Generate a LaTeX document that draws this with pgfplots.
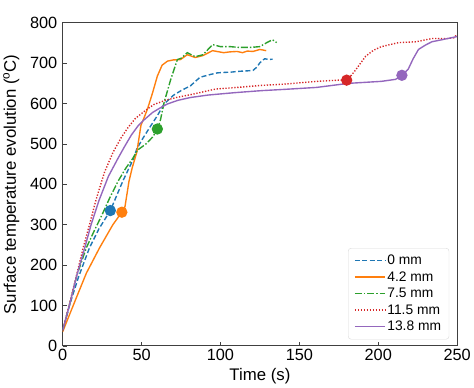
\documentclass[border=0pt]{standalone}
\usepackage{pgfplots}
\pgfplotsset{compat=1.18}
\usepackage{fontspec}
\setmainfont{Liberation Sans}
\definecolor{mblue}{HTML}{1F77B4}
\definecolor{morange}{HTML}{FF7F0E}
\definecolor{mgreen}{HTML}{2CA02C}
\definecolor{mred}{HTML}{D62728}
\definecolor{mpurple}{HTML}{9467BD}
\begin{document}
\begin{tikzpicture}
\begin{axis}[
  width=398bp, height=326bp, scale only axis,
  xmin=0, xmax=250, ymin=0, ymax=800,
  xtick={0,50,100,150,200,250},
  ytick={0,100,200,300,400,500,600,700,800},
  tick pos=left, tick align=inside,
  major tick length=4bp,
  axis line style={black!75, line width=0.8pt},
  tick style={black!75, line width=0.6pt},
  /pgf/number format/assume math mode=true,
  ticklabel style={font=\fontsize{16.5}{18}\selectfont},
  yticklabel style={xshift=-2bp},
  label style={font=\fontsize{17}{19}\selectfont},
  xlabel={Time (s)},
  ylabel={Surface temperature evolution (\textsuperscript{o}C)},
  xlabel style={yshift=-1bp},
  ylabel style={yshift=4bp},
  legend cell align=left,
  legend style={at={(rel axis cs:0.98,0.02)}, anchor=south east,
    font=\fontsize{14}{16}\selectfont, draw=black!15, rounded corners=3pt,
    row sep=1.5bp, inner xsep=6bp, inner ysep=5bp},
  legend image code/.code={\draw[#1, line width=1.5pt] (0bp,0.3bp) -- (30bp,0.3bp);},
  every axis plot/.append style={line width=1.4pt},
]
\addplot[mblue, dash pattern=on 5pt off 2.5pt] coordinates {
(0,38)(4.6,104)(10,170)(17,243)(23,290)(30.2,335)(34,370)(38,407)(42,440)(45,464)(47,488)(51,515)(56,546)(60,570)(64.3,599)(70,620)(75,632)(81,644)(87,665)(93.6,672)(98,676)(102,677)(107,678)(112.4,680)(117,681)(120.6,682)(123,690)(125,701)(128,711)(131,709)(133,710)};
\addlegendentry{0 mm}
\addplot[color=morange, solid] coordinates {
(0,35)(7.7,110)(15,180)(23.4,243)(31.8,300)(37.5,331)(39.5,345)(42,407)(44,440)(47,480)(49.6,546)(51.7,566)(53.8,587)(57,627)(60,668)(63,695)(66.4,705)(70,708)(74.7,709)(79,721)(84,714)(89,719)(95,731)(102,726)(106,728)(110.5,729)(114,726)(117,730)(120.6,729)(125,734)(129,731)};
\addlegendentry{4.2 mm}
\addplot[mgreen, dash pattern=on 7pt off 2pt on 1.5pt off 2pt] coordinates {
(0,38)(4.5,104)(9,175)(15,243)(20,285)(25,325)(30,368)(35,407)(40,440)(44.4,464)(47.5,485)(52.8,500)(57,517)(60,535)(62,560)(64.3,603)(68.5,660)(72.7,709)(75,712)(79,726)(84,716)(89,721)(95,746)(100,741)(106,741)(112,739)(119,739)(125,741)(129.4,751)(133,758)(135.6,751)};
\addlegendentry{7.5 mm}
\addplot[mred, dash pattern=on 1.3pt off 1.7pt] coordinates {
(0,38)(4.3,104)(8.8,175)(13,243)(17,300)(21,360)(26.5,430)(32,480)(37,515)(41.3,540)(46,563)(53.8,587)(58,598)(64.3,607)(72,615)(81,622)(97,636)(114,641)(126,645)(140,648)(161,655)(175,658)(180,658)(183,670)(186,685)(192,717)(197,732)(202,741)(213,751)(224,753)(234,761)(244,761)(248,763)(250,771)};
\addlegendentry{11.5 mm}
\addplot[mpurple] coordinates {
(0,38)(4.5,104)(9,175)(14,243)(18,300)(23,360)(29,420)(35,464)(39,492)(43.5,522)(48,546)(51.7,560)(57,578)(63,592)(66.4,599)(73,608)(81,615)(92,621)(109,627)(126,632)(140,635)(161,640)(181,650)(202,655)(211,660)(215,670)(219,685)(222,710)(225.5,734)(230,745)(234,753)(244,761)(250,766)};
\addlegendentry{13.8 mm}
\addplot[only marks, mark=*, mark size=5pt, mblue, forget plot] coordinates {(30.2,335)};
\addplot[only marks, mark=*, mark size=5pt, morange, forget plot] coordinates {(37.5,331)};
\addplot[only marks, mark=*, mark size=5pt, mgreen, forget plot] coordinates {(60,537)};
\addplot[only marks, mark=*, mark size=5pt, mred, forget plot] coordinates {(180,658)};
\addplot[only marks, mark=*, mark size=5pt, mpurple, forget plot] coordinates {(215,670)};
\end{axis}
\path ([yshift=23bp]current axis.north);
\end{tikzpicture}
\end{document}
